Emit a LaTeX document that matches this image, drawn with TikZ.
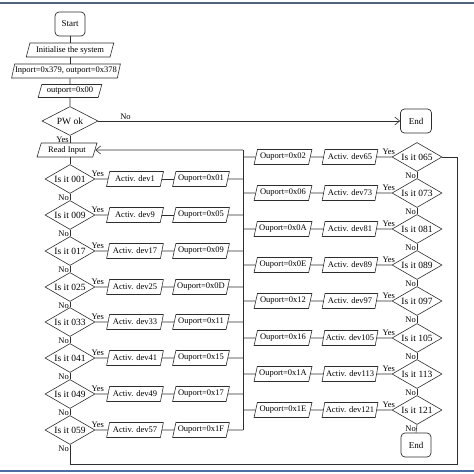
\documentclass[tikz,border=0pt]{standalone}
\usepackage{fontspec}
\setmainfont{Liberation Serif}
\usetikzlibrary{arrows.meta,shapes.geometric,calc}
\definecolor{lineC}{RGB}{45,45,45}
\definecolor{frameC}{RGB}{85,100,125}
\definecolor{frameB}{RGB}{75,110,165}

\begin{document}
\begin{tikzpicture}[x=1pt,y=-1pt,
				font=\fontsize{8.5}{10}\selectfont,
				term/.style={rectangle, draw=lineC, line width=0.7pt, rounded corners=4pt, minimum width=30pt, minimum height=24pt, inner sep=1pt, font=\fontsize{9}{10}\selectfont},
				io/.style={trapezium, trapezium left angle=72, trapezium right angle=108, trapezium stretches=true, draw=lineC, line width=0.6pt, minimum height=15pt, inner xsep=0.5pt, inner ysep=1pt},
				test/.style={diamond, aspect=1.8, draw=lineC, line width=0.6pt, minimum width=50pt, minimum height=29pt, inner sep=0pt, font=\fontsize{9.5}{10}\selectfont},
				flow/.style={draw=lineC, line width=0.6pt},
				tag/.style={font=\fontsize{8.5}{9}\selectfont, inner sep=1pt},
				arrow/.style={flow, -{Straight Barb[length=5pt,width=8pt]}}
				]
				\useasboundingbox (0,0) rectangle (474,474);
				\draw[frameC, line width=2pt] (0,2.5) -- (474,2.5);
				\draw[frameB, line width=1.5pt] (0,471) -- (474,471);
				
				\node (start) [term] at (70,24) {Start};
				\node (init) [io, minimum width=88pt, minimum height=14pt] at (70,50) {Initialise the system};
				\node (ports) [io, minimum width=108pt, minimum height=14pt] at (66,71) {Inport=0x379, outport=0x378};
				\node (outp) [io, minimum width=64pt, minimum height=13pt] at (70,91) {outport=0x00};
				\node (pwok) [test, minimum width=56pt] at (70,121) {PW ok};
				\node (endA) [term, minimum width=31pt] at (416,121) {End};
				\node (read) [io, minimum width=60pt, minimum height=14pt] at (67,150) {Read Input};
				\coordinate (busT) at (243,150);
				\coordinate (busB) at (243,430);
				\coordinate (loopC) at (457,464);
				
				\foreach \i/\yl/\cl/\dl/\pl/\yr/\cr/\dr/\pr in {
					1/179/001/1/01/157/065/65/02, 2/215/009/9/05/193/073/73/06,
					3/251/017/17/09/229/081/81/0A, 4/287/025/25/0D/265/089/89/0E,
					5/322/033/33/11/301/097/97/12, 6/358/041/41/15/338/105/105/16,
					7/394/049/49/17/374/113/113/1A, 8/430/059/57/1F/410/121/121/1E}
				{
					% left column
					\node (qL\i) [test] at (70,\yl) {Is it \cl};
					\node (aL\i) [io, minimum width=57pt] at (135,\yl) {Activ. dev\dl};
					\node (oL\i) [io, minimum width=57pt] at (201,\yl) {Ouport=0x\pl};
					\coordinate (bL\i) at (243,\yl);
					\draw [flow] (qL\i.east) -- node[tag, pos=0.2, above=1pt] {Yes} (aL\i.west);
					\draw [flow] (aL\i.east) -- (oL\i.west);
					\draw [flow] (oL\i.east) -- (bL\i);
					\node [tag, anchor=north east] at (qL\i.south) {No};
					% right column
					\node (qR\i) [test] at (417,\yr) {Is it \cr};
					\node (aR\i) [io, minimum width=56pt] at (350,\yr) {Activ. dev\dr};
					\node (oR\i) [io, minimum width=58pt] at (283,\yr) {Ouport=0x\pr};
					\coordinate (bR\i) at (243,\yr);
					\draw [flow] (bR\i) -- (oR\i.west);
					\draw [flow] (oR\i.east) -- (aR\i.west);
					\draw [flow] (aR\i.east) -- (qR\i.west);
					\node [tag, above=1pt, xshift=-3pt] at (qR\i.west) {Yes};
					\node [tag, anchor=north east] at (qR\i.south) {No};
				}
				\node (endB) [term] at (416,445) {End};
				
				\draw [flow] (start) -- (init);
				\draw [flow] (init.south) -- (init.south |- ports.north);
				\draw [flow] (init.south |- ports.south) -- (outp.north);
				\draw [flow] (outp) -- (pwok);
				\draw [arrow] (pwok.east) -- node[tag, pos=0.09, above] {No} (endA.west);
				\draw [flow] (pwok.south) -- (pwok.south |- read.north);
				\node [tag, anchor=north east] at (pwok.south) {Yes};
				\draw [flow] (read.south -| qL1.north) -- (qL1.north);
				\draw [arrow] (busT) -- (read.east);
				\draw [flow] (busT) -- (busB);
				\foreach \i [evaluate=\i as \j using int(\i+1)] in {1,...,7}
				{
					\draw [flow] (qL\i.south) -- (qL\j.north);
					\draw [flow] (qR\i.south) -- (qR\j.north);
				}
				\draw [flow] (qR8.south) -- (endB.north);
				\draw [flow] (qL8.south) |- (loopC) |- (qR1.east);
			\end{tikzpicture}
\end{document}
